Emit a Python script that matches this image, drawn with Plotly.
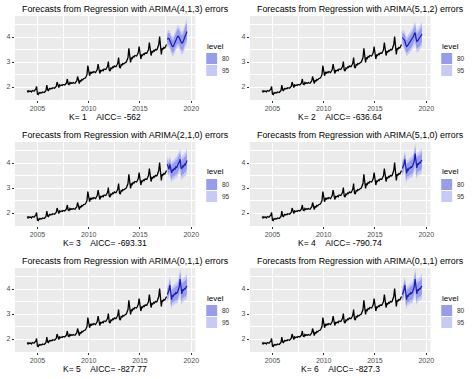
import plotly.graph_objects as go

W, H = 474, 379

# ---------------- data ----------------
start_year = 2004
history = [
    1.86, 1.80, 1.85, 1.82, 1.84, 1.80, 1.86, 1.84, 1.83, 1.88, 1.90, 2.02,  # 2004
    1.72, 1.70, 1.78, 1.75, 1.78, 1.76, 1.80, 1.79, 1.78, 1.82, 1.86, 2.08,  # 2005
    1.88, 1.86, 1.94, 1.92, 1.95, 1.93, 1.97, 1.96, 1.95, 1.99, 2.02, 2.20,  # 2006
    2.02, 1.98, 2.08, 2.05, 2.08, 2.06, 2.10, 2.09, 2.08, 2.12, 2.16, 2.32,  # 2007
    2.12, 2.10, 2.18, 2.14, 2.17, 2.15, 2.18, 2.16, 2.15, 2.20, 2.24, 2.42,  # 2008
    2.18, 2.14, 2.26, 2.24, 2.30, 2.28, 2.33, 2.35, 2.36, 2.42, 2.50, 2.86,  # 2009
    2.50, 2.45, 2.58, 2.55, 2.60, 2.57, 2.62, 2.60, 2.58, 2.64, 2.70, 2.92,  # 2010
    2.58, 2.54, 2.66, 2.64, 2.68, 2.65, 2.72, 2.70, 2.70, 2.76, 2.82, 3.02,  # 2011
    2.68, 2.64, 2.76, 2.74, 2.80, 2.78, 2.84, 2.82, 2.82, 2.88, 2.95, 3.18,  # 2012
    2.80, 2.76, 2.90, 2.88, 2.94, 2.92, 2.98, 2.98, 3.00, 3.08, 3.18, 3.55,  # 2013
    3.10, 2.98, 3.18, 3.14, 3.22, 3.20, 3.26, 3.24, 3.24, 3.30, 3.38, 3.62,  # 2014
    3.20, 3.12, 3.28, 3.26, 3.32, 3.30, 3.36, 3.34, 3.35, 3.42, 3.50, 3.78,  # 2015
    3.34, 3.26, 3.42, 3.40, 3.46, 3.44, 3.50, 3.48, 3.50, 3.58, 3.70, 4.02,  # 2016
    3.40, 3.30, 3.55, 3.52, 3.58, 3.56, 3.62, 3.70,                          # 2017
]

fc_k1 = [3.90, 3.95, 3.93, 3.88, 3.78, 3.68, 3.62, 3.63, 3.70, 3.80, 3.90, 3.97,
         4.02, 4.03, 3.98, 3.90, 3.80, 3.76, 3.77, 3.85, 3.96, 4.07, 4.16, 4.22]
fc_k2 = [3.98, 3.92, 3.88, 3.85, 3.70, 3.62, 3.65, 3.70, 3.72, 3.78, 3.85, 3.88,
         3.92, 4.02, 4.12, 4.18, 3.95, 3.82, 3.85, 3.90, 3.92, 3.98, 4.05, 4.12]
fc_k3 = [3.95, 3.85, 3.75, 3.95, 3.65, 3.60, 3.72, 3.70, 3.78, 3.75, 3.85, 3.82,
         3.90, 3.95, 4.05, 4.15, 3.80, 3.78, 3.88, 3.85, 3.95, 3.92, 4.02, 4.10]
fc_k4 = [3.78, 3.85, 3.95, 4.15, 3.68, 3.58, 3.75, 3.72, 3.80, 3.78, 3.85, 3.83,
         3.88, 3.95, 4.08, 4.38, 3.90, 3.80, 3.98, 3.95, 4.02, 4.00, 4.08, 4.12]
fc_k5 = [3.78, 3.85, 3.96, 4.16, 3.68, 3.57, 3.75, 3.72, 3.80, 3.78, 3.86, 3.83,
         3.88, 3.96, 4.09, 4.40, 3.90, 3.80, 3.98, 3.95, 4.02, 4.00, 4.08, 4.12]
fc_k6 = [3.78, 3.85, 3.96, 4.16, 3.68, 3.57, 3.75, 3.72, 3.80, 3.78, 3.86, 3.83,
         3.88, 3.96, 4.09, 4.40, 3.90, 3.80, 3.98, 3.95, 4.02, 4.00, 4.08, 4.12]

hw80 = [0.20, 0.22, 0.23, 0.24, 0.25, 0.25, 0.26, 0.26, 0.27, 0.27, 0.28, 0.28,
        0.29, 0.29, 0.29, 0.30, 0.30, 0.30, 0.31, 0.31, 0.31, 0.32, 0.32, 0.32]
hw95 = [0.31, 0.33, 0.35, 0.36, 0.37, 0.38, 0.39, 0.39, 0.40, 0.41, 0.41, 0.42,
        0.43, 0.43, 0.44, 0.44, 0.45, 0.45, 0.46, 0.46, 0.47, 0.47, 0.48, 0.48]

titles = ["Forecasts from Regression with ARIMA(4,1,3) errors",
          "Forecasts from Regression with ARIMA(5,1,2) errors",
          "Forecasts from Regression with ARIMA(2,1,0) errors",
          "Forecasts from Regression with ARIMA(5,1,0) errors",
          "Forecasts from Regression with ARIMA(0,1,1) errors",
          "Forecasts from Regression with ARIMA(0,1,1) errors"]
k_values = [1, 2, 3, 4, 5, 6]
aicc_values = ["-562", "-636.64", "-693.31", "-790.74", "-827.77", "-827.3"]
forecasts = [fc_k1, fc_k2, fc_k3, fc_k4, fc_k5, fc_k6]
levels = ["80", "95"]
x_ticks = [2005, 2010, 2015, 2020]
y_ticks = [2, 3, 4]

# ---------------- layout helpers ----------------
hist_x = [start_year + i / 12 for i in range(len(history))]
n0 = len(history)
fc_x = [start_year + (n0 + i) / 12 for i in range(len(fc_k1))]

PW, PH = 237, 126
PL, PR, PT, PB = 15, 197, 16, 100
C95 = "#C6CAF5"
C80 = "#989DEA"
LINEFC = "#1A1AB8"
FONT = "Liberation Sans, Arial"

def fx(px):
    return px / W

def fy(py):
    return 1 - py / H

fig = go.Figure()
annotations = []
shapes = []
layout_axes = {}

for k in range(6):
    r, c = divmod(k, 2)
    ox, oy = PW * c, PH * r
    idx = "" if k == 0 else str(k + 1)
    xa, ya = "x" + idx, "y" + idx
    fc = forecasts[k]
    lo95 = [m - h for m, h in zip(fc, hw95)]
    up95 = [m + h for m, h in zip(fc, hw95)]
    lo80 = [m - h for m, h in zip(fc, hw80)]
    up80 = [m + h for m, h in zip(fc, hw80)]

    fig.add_trace(go.Scatter(x=fc_x + fc_x[::-1], y=up95 + lo95[::-1], fill="toself",
                             fillcolor=C95, line=dict(width=0), mode="lines",
                             hoverinfo="skip", showlegend=False, xaxis=xa, yaxis=ya))
    fig.add_trace(go.Scatter(x=fc_x + fc_x[::-1], y=up80 + lo80[::-1], fill="toself",
                             fillcolor=C80, line=dict(width=0), mode="lines",
                             hoverinfo="skip", showlegend=False, xaxis=xa, yaxis=ya))
    fig.add_trace(go.Scatter(x=hist_x, y=history, mode="lines",
                             line=dict(color="black", width=1.3), showlegend=False,
                             xaxis=xa, yaxis=ya))
    fig.add_trace(go.Scatter(x=fc_x, y=fc, mode="lines",
                             line=dict(color=LINEFC, width=1.2), showlegend=False,
                             xaxis=xa, yaxis=ya))

    axcommon = dict(showline=False, zeroline=False, gridcolor="white", gridwidth=1,
                    ticks="outside", ticklen=2, tickwidth=0.6, tickcolor="#333333",
                    tickfont=dict(family=FONT, size=7, color="#4D4D4D"))
    layout_axes["xaxis" + idx] = dict(
        domain=[fx(ox + PL), fx(ox + PR)], anchor=ya, range=[2002.8, 2020.4],
        tickvals=x_ticks, ticktext=[str(t) for t in x_ticks],
        minor=dict(tickvals=[2002.5, 2007.5, 2012.5, 2017.5], showgrid=True,
                   gridcolor="white", gridwidth=0.5, ticks=""),
        **axcommon)
    layout_axes["yaxis" + idx] = dict(
        domain=[fy(oy + PB), fy(oy + PT)], anchor=xa, range=[1.48, 4.84],
        tickvals=y_ticks, ticktext=[str(t) for t in y_ticks],
        minor=dict(tickvals=[1.5, 2.5, 3.5, 4.5], showgrid=True,
                   gridcolor="white", gridwidth=0.5, ticks=""),
        **axcommon)

    annotations.append(dict(x=fx(ox + 20), y=fy(oy + 9), xref="paper", yref="paper",
                            text=titles[k], showarrow=False, xanchor="left", yanchor="middle",
                            font=dict(family=FONT, size=8.9, color="black")))
    caption = "K= %d&nbsp;&nbsp;&nbsp;&nbsp;AICC= %s" % (k_values[k], aicc_values[k])
    annotations.append(dict(x=fx(ox + (PL + PR) / 2), y=fy(oy + 117), xref="paper", yref="paper",
                            text=caption, showarrow=False, xanchor="center", yanchor="middle",
                            font=dict(family=FONT, size=8.5, color="black")))
    # legend
    annotations.append(dict(x=fx(ox + 207), y=fy(oy + 46), xref="paper", yref="paper",
                            text="level", showarrow=False, xanchor="left", yanchor="middle",
                            font=dict(family=FONT, size=8, color="black")))
    for j, (lab, col) in enumerate(zip(levels, [C80, C95])):
        y0 = oy + 53 + 12 * j
        shapes.append(dict(type="rect", xref="paper", yref="paper",
                           x0=fx(ox + 208), x1=fx(ox + 219), y0=fy(y0 + 11), y1=fy(y0),
                           fillcolor=col, line=dict(width=0)))
        annotations.append(dict(x=fx(ox + 222), y=fy(y0 + 5.5), xref="paper", yref="paper",
                                text=lab, showarrow=False, xanchor="left", yanchor="middle",
                                font=dict(family=FONT, size=6.5, color="#333333")))

fig.update_layout(width=W, height=H, margin=dict(l=0, r=0, t=0, b=0),
                  paper_bgcolor="white", plot_bgcolor="#EBEBEB", showlegend=False,
                  annotations=annotations, shapes=shapes, **layout_axes)

fig.write_html("out.html", config={"displayModeBar": False},
               post_script="document.body.style.margin='0';")
